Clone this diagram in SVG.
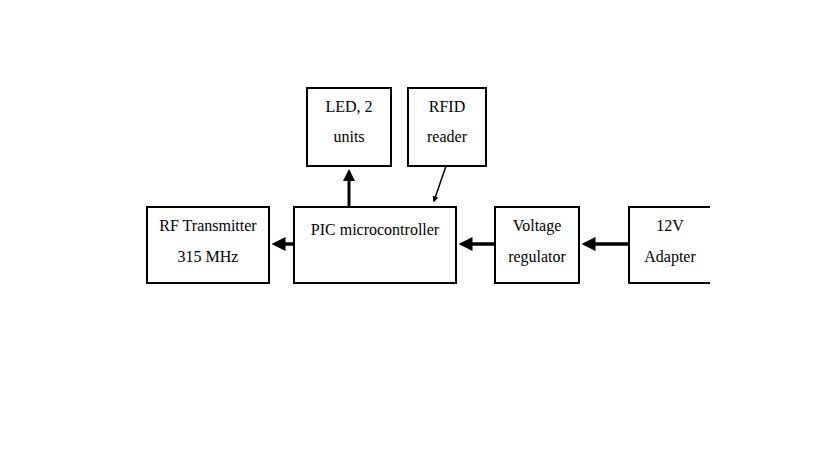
<svg xmlns="http://www.w3.org/2000/svg" width="819" height="460" viewBox="0 0 819 460">
<style>
rect{fill:#fff;stroke:#000;stroke-width:2}
text{font-family:"Liberation Serif",serif;font-size:16px;text-anchor:middle;fill:#000}
.c line{stroke:#000;stroke-width:3.5}
</style>
<defs><marker id="a" markerWidth="4" markerHeight="4" refX="3" refY="2" orient="auto"><path d="M0,0L4,2L0,4z" fill="#000"/></marker></defs>
<rect x="0" y="0" width="819" height="460" style="stroke:none"/>
<g id="rf"><rect x="147" y="207" width="122" height="76"/><text x="208" y="231">RF Transmitter</text><text x="208" y="262">315 MHz</text></g>
<g id="pic"><rect x="294" y="207" width="162" height="76"/><text x="375" y="235">PIC microcontroller</text></g>
<g id="vr"><rect x="495" y="207" width="84" height="76"/><text x="537" y="231">Voltage</text><text x="537" y="262">regulator</text></g>
<g id="ad"><rect x="629" y="207" width="90" height="76"/><text x="670" y="231">12V</text><text x="670" y="262">Adapter</text></g>
<g id="led"><rect x="307" y="88" width="84" height="78"/><text x="349" y="112">LED, 2</text><text x="349" y="142">units</text></g>
<g id="rfid"><rect x="408" y="88" width="78" height="78"/><text x="447" y="112">RFID</text><text x="447" y="142">reader</text></g>
<rect x="710" y="200" width="20" height="90" style="stroke:none"/>
<g class="c">
<line x1="629" y1="244" x2="585" y2="244" marker-end="url(#a)"/>
<line x1="495" y1="244" x2="462" y2="244" marker-end="url(#a)"/>
<line x1="294" y1="244" x2="275" y2="244" marker-end="url(#a)"/>
<line x1="349" y1="207" x2="349" y2="172" marker-end="url(#a)" style="stroke-width:3"/>
<line x1="446" y1="166" x2="434" y2="201" marker-end="url(#a)" style="stroke-width:1.5"/>
</g>
</svg>
